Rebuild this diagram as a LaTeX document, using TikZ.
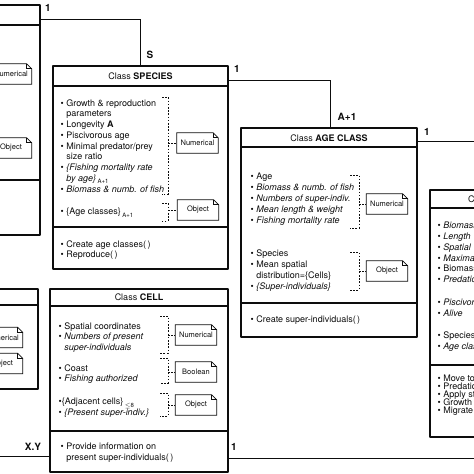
\documentclass[tikz,border=0pt]{standalone}
\usepackage{fontspec}
\setmainfont{TeX Gyre Heros}
\usetikzlibrary{calc}
\usepackage{tkz-euclide}
\definecolor{InkClr}{rgb}{0.05,0.05,0.05}
\newcommand\bul{\textbullet\ }
\newcommand\indt{\hphantom{\textbullet\ }}
\newcommand\lowidx[1]{\,\raisebox{-2.5pt}{\fontsize{6}{6}\selectfont #1}}
\newcommand\tightlines{\lineskiplimit=-10pt\relax}
% note tag with folded corner
\newcommand\notetag[4]{%
  \node[tagbox] (#1) at (#3,#4) {#2};
  \draw[tagline] (#1.north west) -- ([xshift=-5pt]#1.north east) -- ([yshift=-5pt]#1.north east)
    -- (#1.south east) -- (#1.south west) -- cycle;
  \draw[tagline] ([xshift=-5pt]#1.north east) |- ([yshift=-5pt]#1.north east);}
% dashed bracket from a group of attributes to its tag
\newcommand\dbracket[5]{%
  \draw[brk] (#1,#3) -- (#2,#3) -- (#2,#4) -- (#1,#4);
  \draw[brk] (#5.west -| #2,0) -- (#5.west);}

\begin{document}
\begin{tikzpicture}[x=1pt,y=-1pt,color=InkClr,
  txt/.style={anchor=north west,align=left,inner sep=0pt,font=\fontsize{9}{10.8}\selectfont},
  ttl/.style={inner sep=0pt,font=\fontsize{9}{10.8}\selectfont},
  mult/.style={inner sep=0pt,font=\fontsize{10}{12}\selectfont\bfseries},
  tagbox/.style={minimum width=41pt,minimum height=20pt,inner sep=0pt,font=\fontsize{7.5}{9}\selectfont},
  tagline/.style={line width=.7pt},
  brk/.style={line width=.6pt,dash pattern=on 1.6pt off 1.6pt}]
\useasboundingbox (0,0) rectangle (474,474);
\clip (0,0) rectangle (474,474);
\tkzSetUpLine[line width=1.1pt,color=InkClr]

\tkzDefPoints{-20/5/T1,40/5/T2,40/235/T3,-20/235/T4,-20/25/T5,40/25/T6,-20/180/T7,40/180/T8}
\tkzDefPoints{-20/289/L1,38/289/L2,38/389/L3,-20/389/L4,-20/305/L5,38/305/L6}
\tkzDefPoints{53/66/S1,228/66/S2,228/269/S3,53/269/S4,53/86/S5,228/86/S6,53/227/S7,228/227/S8}
\tkzDefPoints{50/289/C1,228/289/C2,228/472/C3,50/472/C4,50/306/C5,228/306/C6,50/431/C7,228/431/C8}
\tkzDefPoints{241/128/A1,417/128/A2,417/337/A3,241/337/A4,241/147/A5,417/147/A6,241/303/A7,417/303/A8}
\tkzDefPoints{430/190/I1,560/190/I2,560/437/I3,430/437/I4,430/208/I5,560/208/I6,430/365/I7,560/365/I8}
\tkzDefPoints{40/19/K1,140/19/K2,228/80/K4,330/80/K5,417/141/K7,480/141/K8,50/456/K9,-10/456/K10,228/458/K11,480/458/K12}
\tkzDefPoints{140/66/K3,330/128/K6}

\tkzDrawPolygon(T1,T2,T3,T4)
\tkzDrawPolygon(L1,L2,L3,L4)
\tkzDrawPolygon(S1,S2,S3,S4)
\tkzDrawPolygon(C1,C2,C3,C4)
\tkzDrawPolygon(A1,A2,A3,A4)
\tkzDrawPolygon(I1,I2,I3,I4)
\tkzDrawSegments(T5,T6 T7,T8 L5,L6 S5,S6 S7,S8 C5,C6 C7,C8 A5,A6 A7,A8 I5,I6 I7,I8)

\tkzDrawPolySeg[line width=1pt](K1,K2,K3)
\tkzDrawPolySeg[line width=1pt](K4,K5,K6)
\tkzDrawSegments[line width=1pt](K7,K8 K9,K10 K11,K12)

% multiplicities
\node[mult] (m1) at (48,8) {1};
\node[mult] (mS) at (150,55) {S};
\node[mult] (m2) at (237,69) {1};
\node[mult] (mA) at (347,117) {A+1};
\node[mult] (m3) at (427,132) {1};
\node[mult] (mX) at (33,447) {X.Y};
\node[mult] (m4) at (234,447) {1};

% boxes cut by the left edge
\notetag{tlNum}{Numerical}{11}{74}
\notetag{tlObj}{Object}{11}{148}
\notetag{llNum}{Numerical}{2}{337.5}
\notetag{llObj}{Object}{2}{363.5}

% species
\node[ttl] (spT) at (140.5,76) {Class \textbf{SPECIES}};
\node[txt,font=\fontsize{9}{10.75}\selectfont] (spA) at (60.5,99.2) {\bul Growth \& reproduction\\ \indt parameters\\
  \bul Longevity \textbf{A}\\ \bul Piscivorous age\\ \bul Minimal predator/prey\\ \indt size ratio\\
  \bul \textit{\{Fishing mortality rate}\\ \indt\textit{by age\}}\lowidx{A+1}\\ \bul \textit{Biomass \& numb. of fish}};
\node[txt] (spB) at (60.5,208.2) {\bul \{Age classes\}\lowidx{A+1}};
\node[txt] (spM) at (60.5,240.2) {\bul Create age classes(\,)\\ \bul Reproduce(\,)};
\notetag{spNum}{Numerical}{197.5}{143}
\dbracket{162}{168}{97}{194}{spNum}
\notetag{spObj}{Object}{198}{210}
\dbracket{162}{168}{203}{221}{spObj}

% cell
\node[ttl] (ceT) at (139,297.5) {Class \textbf{CELL}};
\node[txt,font=\fontsize{9}{10.5}\selectfont] (ceA) at (58.5,322.2) {\bul Spatial coordinates\\
  \bul \textit{Numbers of present}\\ \indt\textit{super-individuals}};
\node[txt] (ceB) at (58.5,364.2) {\bul Coast\\ \bul \textit{Fishing authorized}};
\node[txt] (ceC) at (58.5,398.2) {\textbullet\{Adjacent cells\}\lowidx{$\leq$8}\\ \bul \textit{\{Present super-indiv.\}}};
\node[txt] (ceM) at (60.5,443.2) {\bul Provide information on\\ \indt present super-individuals(\,)};
\notetag{ceNum}{Numerical}{196}{335}
\dbracket{160}{168}{316}{353}{ceNum}
\notetag{ceBool}{Boolean}{196}{372}
\dbracket{160}{168}{358}{383}{ceBool}
\notetag{ceObj}{Object}{196}{405}
\dbracket{160}{168}{393}{416}{ceObj}

% age class
\node[ttl] (agT) at (329,138) {Class \textbf{AGE CLASS}};
\node[txt,font=\fontsize{9}{11}\selectfont] (agA) at (250.5,173.2) {\bul Age\\ \bul \textit{Biomass \& numb. of fish}\\
  \bul \textit{Numbers of super-indiv.}\\ \bul \textit{Mean length \& weight}\\ \bul \textit{Fishing mortality rate}};
\node[txt,font=\fontsize{9}{11}\selectfont] (agB) at (250.5,249.2) {\bul Species\\ \bul Mean spatial\\
  \indt distribution=\{Cells\}\\ \bul \textit{\{Super-individuals\}}};
\node[txt] (agM) at (250.5,315.2) {\bul Create super-individuals(\,)};
\notetag{agNum}{Numerical}{387}{204}
\dbracket{350}{359}{175}{228}{agNum}
\notetag{agObj}{Object}{387}{271}
\dbracket{350}{359}{252}{290}{agObj}

% box cut by the right edge
\node[ttl,anchor=west] (siT) at (468,199) {Class};
\node[txt,font=\fontsize{9}{10.7}\selectfont] (siA) at (437.5,222.2) {\bul \textit{Biomass}\\ \bul \textit{Length}\\
  \bul \textit{Spatial}\\ \bul \textit{Maximal}\\ \bul Biomass\\ \bul \textit{Predation}};
\node[txt] (siB) at (437.5,299.2) {\bul \textit{Piscivorous}\\ \bul \textit{Alive}};
\node[txt,font=\fontsize{9}{11}\selectfont] (siC) at (437.5,331.2) {\bul Species\\ \bul \textit{Age class}};
\node[txt,font=\fontsize{9}{8}\selectfont\tightlines] (siM) at (437.5,375.2) {\bul Move to\\ \bul Predation\\
  \bul Apply starvation\\ \bul Growth\\ \bul Migrate};

\end{tikzpicture}
\end{document}
